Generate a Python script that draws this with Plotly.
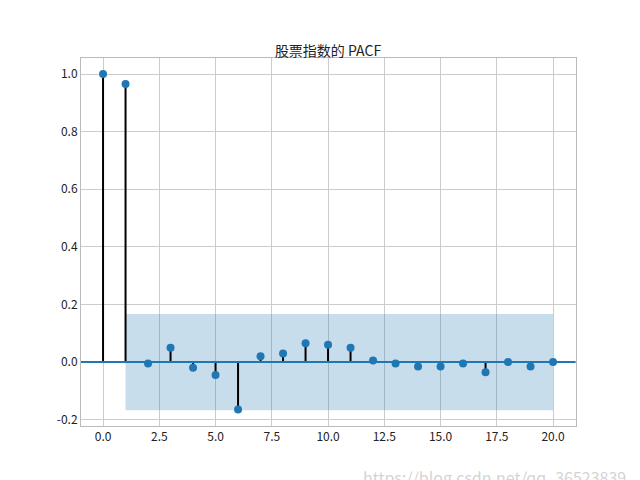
import plotly.graph_objects as go

lags = list(range(21))
pacf = [1.0, 0.965, -0.005, 0.05, -0.02, -0.045, -0.165, 0.02, 0.03, 0.065, 0.06,
        0.05, 0.005, -0.005, -0.015, -0.015, -0.005, -0.035, 0.0, -0.015, 0.0]
conf = 0.167
band_x = [1, 20]
xticks = [0, 2.5, 5, 7.5, 10, 12.5, 15, 17.5, 20]
xlabels = ["0.0", "2.5", "5.0", "7.5", "10.0", "12.5", "15.0", "17.5", "20.0"]
yticks = [-0.2, 0, 0.2, 0.4, 0.6, 0.8, 1.0]
ylabels = ["-0.2", "0.0", "0.2", "0.4", "0.6", "0.8", "1.0"]

fig = go.Figure()
fig.add_trace(go.Scatter(x=band_x + band_x[::-1], y=[conf, conf, -conf, -conf], fill="toself",
                         fillcolor="rgba(31,119,180,0.25)", line=dict(width=0), mode="lines",
                         hoverinfo="skip"))
sx, sy = [], []
for l, v in zip(lags, pacf):
    sx += [l, l, None]; sy += [0, v, None]
fig.add_trace(go.Scatter(x=sx, y=sy, mode="lines", line=dict(color="black", width=2)))
fig.add_trace(go.Scatter(x=[-1, 21], y=[0, 0], mode="lines", line=dict(color="#1f77b4", width=2)))
fig.add_trace(go.Scatter(x=lags, y=pacf, mode="markers", marker=dict(color="#1f77b4", size=8)))

fig.update_layout(
    width=640, height=480, showlegend=False, plot_bgcolor="white", paper_bgcolor="white",
    margin=dict(l=73, r=72, t=50, b=62, autoexpand=False),
    font=dict(family="Noto Sans CJK SC, DejaVu Sans Mono", size=12, color="#222"),
    title=dict(text="股票指数的 PACF", x=0.5, xanchor="center", y=0.92, font=dict(size=14)),
    xaxis=dict(range=[-0.98, 21.02], tickvals=xticks, ticktext=xlabels, showgrid=True,
               gridcolor="#cccccc", zeroline=False, showline=True, linecolor="#bbbbbb", mirror=True),
    yaxis=dict(range=[-0.222, 1.0556], tickvals=yticks, ticktext=ylabels, showgrid=True,
               gridcolor="#cccccc", zeroline=False, showline=True, linecolor="#bbbbbb", mirror=True),
)
fig.add_annotation(text="https://blog.csdn.net/qq_36523839", xref="paper", yref="paper",
                   x=1.105, y=-0.1, yanchor="top", xanchor="right", showarrow=False,
                   font=dict(size=16, color="rgba(200,200,200,0.8)"))
fig.write_html("out.html")
